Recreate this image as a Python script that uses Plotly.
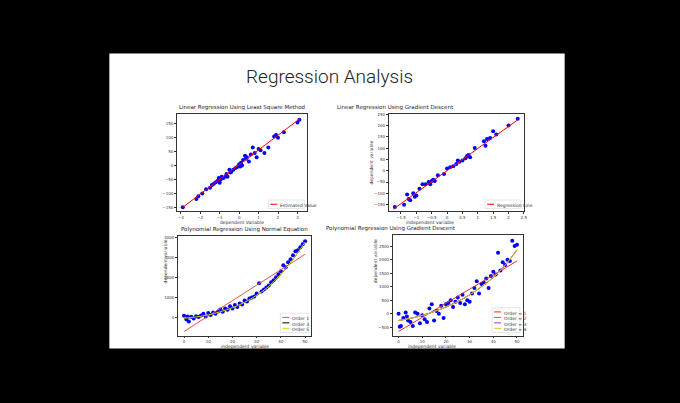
import plotly.graph_objects as go
from plotly.subplots import make_subplots

# linear, least squares
ls_x = [-2.9, -2.2, -2.1, -1.9, -1.7, -1.5, -1.4, -1.3, -1.2, -1.1, -1.05, -1.0, -0.95, -0.9, -0.8, -0.7,
        -0.65, -0.6, -0.5, -0.45, -0.4, -0.3, -0.2, -0.1, 0.0, 0.05, 0.1, 0.15, 0.2, 0.3, 0.35, 0.4, 0.5,
        0.6, 0.7, 0.8, 0.9, 1.0, 1.1, 1.3, 1.5, 1.8, 1.9, 2.0, 2.3, 3.0, 3.1]
ls_y = [-150, -120, -110, -100, -85, -80, -70, -65, -60, -55, -45, -62, -50, -40, -45, -38, -30, -40,
        -15, -25, -22, -15, -10, -5, 5, -3, 10, 0, 20, 35, 25, 30, 15, 40, 65, 45, 30, 60, 55, 45, 65,
        105, 110, 100, 120, 155, 165]
ls_fit_x = [-2.9, 3.15]
ls_fit_y = [-150, 170]

# linear, gradient descent
gd_x = [-1.7, -1.4, -1.3, -1.25, -1.2, -1.1, -1.05, -1.0, -0.9, -0.8, -0.7, -0.6, -0.55, -0.5, -0.45,
        -0.4, -0.3, -0.1, 0.0, 0.1, 0.2, 0.3, 0.35, 0.4, 0.5, 0.6, 0.65, 0.7, 0.75, 0.9, 1.2, 1.25, 1.3,
        1.4, 1.5, 1.6, 2.0, 2.3]
gd_y = [-160, -150, -105, -125, -130, -100, -115, -110, -80, -60, -60, -50, -60, -45, -40, -45, -20,
        -15, 10, 15, 20, 30, 45, 40, 45, 55, 65, 70, 60, 100, 130, 110, 140, 145, 175, 160, 200, 230]
gd_fit_x = [-1.75, 2.3]
gd_fit_y = [-170, 225]

# polynomial, normal equation
ne_x = [0, 1, 1.5, 2, 3, 4, 5, 6, 7, 8, 9, 10, 11, 12, 13, 14, 15, 16, 17, 18, 19, 20, 21, 22, 23,
        24, 25, 26, 27, 28, 29, 30, 31, 32, 33, 34, 35, 36, 37, 38, 39, 40, 41, 42, 43, 44, 45, 46,
        47, 48, 49, 50]
ne_y = [80, -100, 50, -200, 30, -50, 60, 20, 100, 180, 50, 220, 120, 250, 180, 300, 400, 280, 450,
        380, 560, 450, 620, 520, 700, 650, 850, 800, 950, 1000, 1050, 1200, 1700, 1300, 1400, 1500,
        1600, 1750, 1850, 2000, 2150, 2300, 2600, 2500, 2750, 2900, 3100, 3300, 3350, 3500, 3650, 3800]
ne_curve_x = [0, 5, 10, 15, 20, 25, 30, 35, 40, 45, 50]
ne_order1 = [-700, -315, 70, 455, 840, 1225, 1610, 1995, 2380, 2765, 3150]
ne_order3 = [-50, 20, 120, 280, 480, 750, 1100, 1550, 2150, 2900, 3750]
ne_order5 = [-40, 25, 125, 285, 485, 755, 1105, 1555, 2155, 2895, 3760]

# polynomial, gradient descent
pg_x = [0, 0.5, 1, 2, 3, 3.5, 4, 5, 6, 7, 8, 9, 10, 11, 12, 13, 14, 15, 16, 17, 18, 19, 20, 21, 22,
        23, 24, 25, 26, 27, 28, 29, 30, 31, 32, 33, 34, 35, 36, 37, 38, 39, 40, 41, 42, 43, 44, 45,
        46, 47, 48, 49, 50]
pg_y = [0, -480, -450, -150, 50, -100, -250, -300, -450, 50, 0, -350, -50, -200, -300, 200, 350, -250,
        100, 0, 300, -150, 350, 400, 500, 250, 450, 600, 400, 700, 350, 500, 450, 750, 950, 1200, 750,
        1100, 1150, 1300, 950, 1400, 1550, 1450, 2250, 1600, 1900, 1800, 2000, 1950, 2700, 2500, 2550]
pg_curve_x = [0, 5, 10, 15, 20, 25, 30, 35, 40, 45, 50]
pg_order1 = [-650, -390, -130, 130, 390, 650, 910, 1170, 1430, 1690, 1950]
pg_order2 = [-250, -170, -60, 80, 250, 450, 700, 1000, 1350, 1800, 2350]
pg_order3 = [-240, -165, -55, 85, 255, 455, 705, 1000, 1345, 1790, 2370]
pg_order4 = [-245, -168, -58, 82, 252, 452, 702, 1002, 1348, 1795, 2360]

titles = ["Linear Regression Using Least Square Method", "Linear Regression Using Gradient Descent",
          "Polynomial Regression Using Normal Equation", "Polynomial Regression Using Gradient Descent"]
legend_names = [["Estimated Value"], ["Regression Line"], ["Order 1", "Order 3", "Order 5"],
                ["Order = 1", "Order = 2", "Order = 3", "Order = 4"]]
legend_colors = [["red"], ["red"], ["#e05050", "black", "#d8d820"],
                 ["#e03030", "#40a040", "#b030b0", "#d8c020"]]

fig = make_subplots(rows=2, cols=2)

mk = dict(color="blue", size=4)
fig.add_trace(go.Scatter(x=ls_x, y=ls_y, mode="markers", marker=mk), row=1, col=1)
fig.add_trace(go.Scatter(x=ls_fit_x, y=ls_fit_y, mode="lines", line=dict(color="red", width=1)), row=1, col=1)
fig.add_trace(go.Scatter(x=gd_x, y=gd_y, mode="markers", marker=mk), row=1, col=2)
fig.add_trace(go.Scatter(x=gd_fit_x, y=gd_fit_y, mode="lines", line=dict(color="red", width=1)), row=1, col=2)
fig.add_trace(go.Scatter(x=ne_x, y=ne_y, mode="markers", marker=mk), row=2, col=1)
for yy, c in zip([ne_order1, ne_order3, ne_order5], legend_colors[2]):
    fig.add_trace(go.Scatter(x=ne_curve_x, y=yy, mode="lines", line=dict(color=c, width=1, shape="spline")), row=2, col=1)
fig.add_trace(go.Scatter(x=pg_x, y=pg_y, mode="markers", marker=mk), row=2, col=2)
for yy, c in zip([pg_order1, pg_order2, pg_order3, pg_order4], legend_colors[3]):
    fig.add_trace(go.Scatter(x=pg_curve_x, y=yy, mode="lines", line=dict(color=c, width=1, shape="spline")), row=2, col=2)

W, H = 680, 403
# pixel boxes (left, right, top, bottom)
boxes = [(178, 309, 112, 210), (391, 527, 112, 210), (179, 313, 235, 335), (395, 526, 234, 335)]
ranges = [([-3.2, 3.5], [-165, 185], 1, 50), ([-1.9, 2.5], [-180, 250], 0.5, 50),
          ([-2.5, 52.5], [-900, 4050], 10, 1000), ([-2.5, 52.5], [-800, 2900], 10, 500)]
xtitles = ["dependent Variable", "independent variable", "independent variable", "independent variable"]
ytitles = ["", "dependent variable", "dependent variable", "dependent variable"]
ax = dict(showgrid=False, zeroline=False, showline=True, mirror=True, linecolor="#333", linewidth=0.6,
          ticks="outside", ticklen=2, tickcolor="#333", tickfont=dict(size=4, color="#333"))
px = lambda v: v / W
py = lambda v: 1 - v / H
for i, (l, r, t, b) in enumerate(boxes):
    n = "" if i == 0 else str(i + 1)
    xr, yr, dx, dy = ranges[i]
    fig.layout["xaxis" + n].update(domain=[px(l), px(r)], range=xr, dtick=dx, **ax)
    fig.layout["yaxis" + n].update(domain=[py(b), py(t)], range=yr, dtick=dy, **ax)
    fig.add_annotation(x=px((l + r) / 2), y=py(t - 1), xref="paper", yref="paper", text=titles[i],
                       showarrow=False, yanchor="bottom", font=dict(size=5.5, color="#222"))
    fig.add_annotation(x=px((l + r) / 2), y=py(b + 7), xref="paper", yref="paper", text=xtitles[i],
                       showarrow=False, yanchor="top", font=dict(size=4.5, color="#333"))
    if ytitles[i]:
        fig.add_annotation(x=px(l - 17), y=py((t + b) / 2), xref="paper", yref="paper", text=ytitles[i],
                           showarrow=False, textangle=-90, font=dict(size=4.5, color="#333"))
    # small legend box, lower right
    names = legend_names[i]
    lh = 5.5
    bw = 36 if len(names) == 1 else 28
    bx1, by1 = r - 3, b - 3
    bx0, by0 = bx1 - bw, by1 - lh * len(names) - 3
    fig.add_shape(type="rect", xref="paper", yref="paper", x0=px(bx0), x1=px(bx1), y0=py(by1), y1=py(by0),
                  fillcolor="white", line=dict(color="#ccc", width=0.5))
    for j, (nm, c) in enumerate(zip(names, legend_colors[i])):
        yy = by0 + 1.5 + lh * (j + 0.5)
        fig.add_shape(type="line", xref="paper", yref="paper", x0=px(bx0 + 2), x1=px(bx0 + 9),
                      y0=py(yy), y1=py(yy), line=dict(color=c, width=1))
        fig.add_annotation(x=px(bx0 + 11), y=py(yy), xref="paper", yref="paper", text=nm, showarrow=False,
                           xanchor="left", yanchor="middle", yshift=-1.5, borderpad=0,
                           font=dict(size=4.5, color="#333"))

fig.add_shape(type="rect", xref="paper", yref="paper", x0=px(110), x1=px(568), y0=py(348), y1=py(51),
              fillcolor="white", line=dict(width=0), layer="below")
fig.add_annotation(x=px(331), y=py(74), xref="paper", yref="paper", text="Regression Analysis",
                   showarrow=False, yanchor="middle",
                   font=dict(family="Roboto", size=19, color="#222", weight=300))

fig.update_layout(width=W, height=H, margin=dict(l=0, r=0, t=0, b=0), paper_bgcolor="black",
                  plot_bgcolor="white", font=dict(family="DejaVu Sans"), showlegend=False)
fig.write_html("out.html", config={"displayModeBar": False},
               post_script="document.body.style.margin='0';")
